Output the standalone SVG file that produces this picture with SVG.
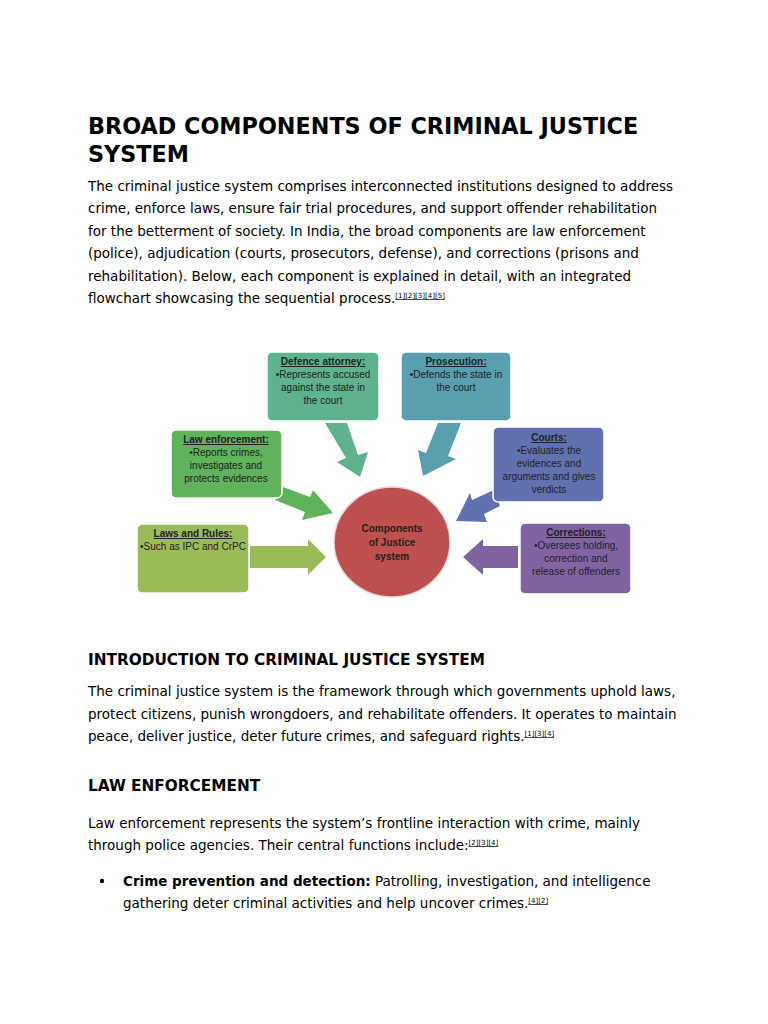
<svg xmlns="http://www.w3.org/2000/svg" width="768" height="1024" viewBox="0 0 768 1024">
<style>
.h{font-family:"DejaVu Sans",sans-serif;font-weight:bold;fill:#000}
.p{font-family:"DejaVu Sans",sans-serif;font-size:13.5px;fill:#000}
.s{font-size:7px;text-decoration:underline}
.bt{font-family:"Liberation Sans",sans-serif;font-size:10px;fill:#222;text-anchor:middle}
.bh{font-weight:bold;text-decoration:underline}
.box{stroke:#fff;stroke-width:1.5}
</style>
<rect width="768" height="1024" fill="#fff"/>
<text class="h" x="88" y="134" font-size="22.3">BROAD COMPONENTS OF CRIMINAL JUSTICE</text>
<text class="h" x="88" y="162" font-size="22.3">SYSTEM</text>
<text class="p" x="88" y="191">The criminal justice system comprises interconnected institutions designed to address</text>
<text class="p" x="88" y="213">crime, enforce laws, ensure fair trial procedures, and support offender rehabilitation</text>
<text class="p" x="88" y="236">for the betterment of society. In India, the broad components are law enforcement</text>
<text class="p" x="88" y="258">(police), adjudication (courts, prosecutors, defense), and corrections (prisons and</text>
<text class="p" x="88" y="281">rehabilitation). Below, each component is explained in detail, with an integrated</text>
<text class="p" x="88" y="303">flowchart showcasing the sequential process.<tspan class="s" dy="-5">[1][2][3][4][5]</tspan></text>

<g id="connectors">
<polygon points="250,546 308,546 308,539 326,557 308,575 308,568 250,568" fill="#9bbb59"/>
<polygon points="518,546 483,546 483,539 463,557 483,575 483,568 518,568" fill="#8064a2"/>
<polygon points="325,423 347,423 358,455 368,452 360,477 337,462 346,458" fill="#5eb28e"/>
<polygon points="438,423 461,423 448,456 456,459 423,476 418,450 426,453" fill="#5a9fb0"/>
<polygon points="283,487 310,497 313,490 333,513 302,520 305,512 275,500" fill="#5fb35a"/>
<polygon points="494,490 472,500 470,493 456,521 487,522 484,514 500,506" fill="#6270b0"/>
</g>

<g id="defence"><rect class="box" x="267" y="352" width="112" height="69" rx="5" fill="#5eb28e"/>
<text class="bt" x="323" y="365"><tspan class="bh">Defence attorney:</tspan><tspan x="323" dy="13">•Represents accused</tspan><tspan x="323" dy="13">against the state in</tspan><tspan x="323" dy="13">the court</tspan></text></g>
<g id="prosecution"><rect class="box" x="401" y="352" width="110" height="69" rx="5" fill="#5a9fb0"/>
<text class="bt" x="456" y="365"><tspan class="bh">Prosecution:</tspan><tspan x="456" dy="13">•Defends the state in</tspan><tspan x="456" dy="13">the court</tspan></text></g>
<g id="lawenf"><rect class="box" x="171" y="430" width="111" height="68" rx="5" fill="#5fb35a"/>
<text class="bt" x="226" y="443"><tspan class="bh">Law enforcement:</tspan><tspan x="226" dy="13">•Reports crimes,</tspan><tspan x="226" dy="13">investigates and</tspan><tspan x="226" dy="13">protects evidences</tspan></text></g>
<g id="courts"><rect class="box" x="493" y="427" width="111" height="75" rx="5" fill="#6270b0"/>
<text class="bt" x="549" y="441"><tspan class="bh">Courts:</tspan><tspan x="549" dy="13">•Evaluates the</tspan><tspan x="549" dy="13">evidences and</tspan><tspan x="549" dy="13">arguments and gives</tspan><tspan x="549" dy="13">verdicts</tspan></text></g>
<g id="laws"><rect class="box" x="137" y="524" width="112" height="69" rx="5" fill="#9bbb59"/>
<text class="bt" x="193" y="537"><tspan class="bh">Laws and Rules:</tspan><tspan x="193" dy="13">•Such as IPC and CrPC</tspan></text></g>
<g id="corrections"><rect class="box" x="520" y="523" width="111" height="71" rx="5" fill="#8064a2"/>
<text class="bt" x="576" y="536"><tspan class="bh">Corrections:</tspan><tspan x="576" dy="13">•Oversees holding,</tspan><tspan x="576" dy="13">correction and</tspan><tspan x="576" dy="13">release of offenders</tspan></text></g>
<g id="center"><ellipse cx="392" cy="542" rx="58" ry="55" fill="#c0504d" stroke="#ddd" stroke-width="1.5"/>
<text class="bt" x="392" y="532" font-size="11" font-weight="bold" fill="#222"><tspan>Components</tspan><tspan x="392" dy="14">of Justice</tspan><tspan x="392" dy="14">system</tspan></text></g>

<text class="h" x="88" y="665" font-size="15.3">INTRODUCTION TO CRIMINAL JUSTICE SYSTEM</text>
<text class="p" x="88" y="696">The criminal justice system is the framework through which governments uphold laws,</text>
<text class="p" x="88" y="719">protect citizens, punish wrongdoers, and rehabilitate offenders. It operates to maintain</text>
<text class="p" x="88" y="741">peace, deliver justice, deter future crimes, and safeguard rights.<tspan class="s" dy="-5">[1][3][4]</tspan></text>
<text class="h" x="88" y="791" font-size="15.3">LAW ENFORCEMENT</text>
<text class="p" x="88" y="828">Law enforcement represents the system’s frontline interaction with crime, mainly</text>
<text class="p" x="88" y="850">through police agencies. Their central functions include:<tspan class="s" dy="-5">[2][3][4]</tspan></text>
<circle cx="102" cy="881" r="2.2" fill="#000"/>
<text class="p" x="123" y="886"><tspan font-weight="bold">Crime prevention and detection:</tspan> Patrolling, investigation, and intelligence</text>
<text class="p" x="123" y="908">gathering deter criminal activities and help uncover crimes.<tspan class="s" dy="-5">[4][2]</tspan></text>
</svg>
